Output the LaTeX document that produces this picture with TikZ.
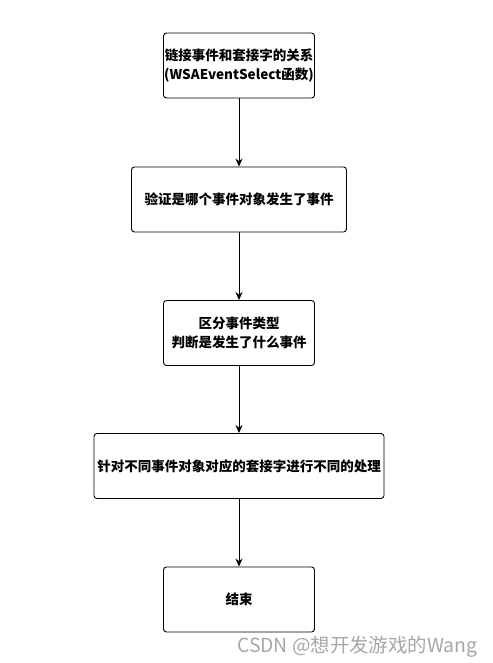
\documentclass[tikz,border=0pt]{standalone}
\usepackage{fontspec}
\setmainfont{Noto Sans CJK SC}
\usetikzlibrary{arrows.meta}
\definecolor{markgray}{HTML}{A6A6A6}
\tikzset{
  flowbox/.style={draw, rounded corners=3pt, line width=0.9pt, minimum height=65pt,
    inner sep=0pt, align=center, font=\fontsize{13.5}{19}\selectfont\bfseries},
  flowarrow/.style={-{Stealth[length=8pt,width=7pt]}, line width=0.9pt}
}
\begin{document}
\begin{tikzpicture}[x=1pt,y=-1pt]
\useasboundingbox (0,0) rectangle (492,663);
\node[flowbox, minimum width=151pt] (bind) at (239,65.5) {链接事件和套接字的关系\\(WSAEventSelect函数)};
\node[flowbox, minimum width=215pt] (check) at (239,199.5) {验证是哪个事件对象发生了事件};
\node[flowbox, minimum width=151pt] (kind) at (239,333) {区分事件类型\\判断是发生了什么事件};
\node[flowbox, minimum width=290pt] (handle) at (239,466) {针对不同事件对象对应的套接字进行不同的处理};
\node[flowbox, minimum width=151pt] (finish) at (239,599.5) {结束};
% connectors
\draw[flowarrow] (bind) -- (check);
\draw[flowarrow] (check) -- (kind);
\draw[flowarrow] (kind) -- (handle);
\draw[flowarrow] (handle) -- (finish);
% watermark
\node[anchor=base west, inner sep=0pt, text=markgray, font=\fontsize{19.4}{21}\selectfont] (mark) at (237,652) {CSDN @想开发游戏的Wang};
\end{tikzpicture}
\end{document}
